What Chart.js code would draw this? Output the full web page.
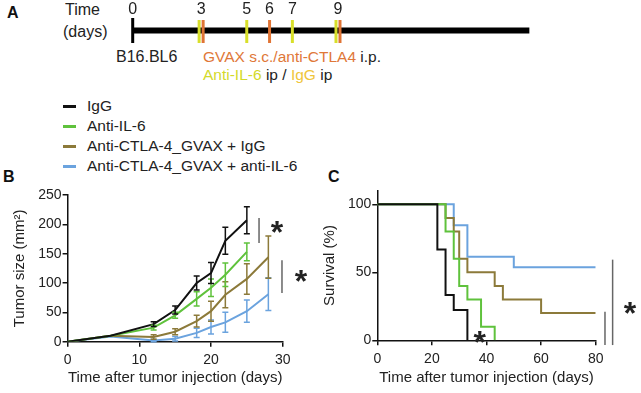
<!DOCTYPE html>
<html>
<head>
<meta charset="utf-8">
<script src="https://cdn.jsdelivr.net/npm/chart.js@4.4.1/dist/chart.umd.min.js"></script>
<style>
  html, body { margin: 0; padding: 0; background: #fff; }
  body { width: 641px; height: 393px; position: relative; overflow: hidden;
         font-family: "Liberation Sans", Arial, sans-serif; color: #222; }
  canvas { position: absolute; }
  .t { position: absolute; white-space: nowrap; line-height: 1; transform: translateY(-50%); }
  .letter { font-weight: bold; font-size: 16px; color: #111; }
  .tl { font-size: 16px; }
  .tr { font-size: 15.5px; }
  .lg { font-size: 15.5px; }
  .sw { position: absolute; width: 13px; height: 2.5px; }
  .orange { color: #e07838; }
  .yellow { color: #d3da2a; }
  .gold { color: #efc53a; }
</style>
</head>
<body>
<div class="t letter" style="left:7px; top:13px;">A</div>
<div class="t tl" style="left:65px; top:10px;">Time</div>
<div class="t tl" style="left:63px; top:32px;">(days)</div>
<div class="t tl" style="left:116px; top:57px;">B16.BL6</div>
<div class="t tr" style="left:203px; top:57px;"><span class="orange">GVAX s.c./anti-CTLA4</span> i.p.</div>
<div class="t tr" style="left:203px; top:75px;"><span class="yellow">Anti-IL-6</span> ip / <span class="gold">IgG</span> ip</div>

<div id="legend"></div>

<div class="t letter" style="left:3px; top:177px;">B</div>
<div class="t letter" style="left:328px; top:177px;">C</div>

<canvas id="timeline" width="641" height="50" style="left:0; top:0;"></canvas>
<canvas id="tumor" width="320" height="213" style="left:0; top:180px;"></canvas>
<canvas id="survival" width="321" height="213" style="left:320px; top:180px;"></canvas>

<script>
// ---- panel A: treatment schedule ----
const timelineDays = [0, 3, 5, 6, 7, 9];
const timelineEnd = 17.4;
const gvaxDays = [3, 6, 9];
const il6Days = [3, 5, 7, 9];

// ---- groups ----
const groupNames = ['IgG', 'Anti-IL-6', 'Anti-CTLA-4_GVAX + IgG', 'Anti-CTLA-4_GVAX + anti-IL-6'];
const groupColors = ['#111111', '#5fc23c', '#8c7a3a', '#6ba3de'];

// ---- panel B: tumor size (mm2), mean and SEM ----
const daysShort = [0, 6, 12, 15, 18, 20, 22, 25];
const daysLong = [0, 6, 12, 15, 18, 20, 22, 25, 28];
const sizeIgG = [0, 10, 30, 54, 100, 117, 172, 207];
const semIgG = [0, 0, 4, 7, 12, 18, 23, 23];
const sizeIL6 = [0, 10, 24, 45, 73, 92, 114, 153];
const semIL6 = [0, 0, 4, 5, 12, 15, 20, 15];
const sizeCtlaIgG = [0, 10, 8, 17, 35, 52, 80, 107, 144];
const semCtlaIgG = [0, 0, 4, 5, 10, 17, 22, 26, 36];
const sizeCtlaIL6 = [0, 9, 2, 5, 15, 25, 33, 52, 81];
const semCtlaIL6 = [0, 0, 2, 4, 8, 12, 17, 19, 28];
const tumorXTicks = [0, 10, 20, 30];
const tumorYTicks = [0, 50, 100, 150, 200, 250];

// ---- panel C: survival (%) ----
const survTimeIgG = [0, 22, 25, 28, 33];
const survIgG = [100, 66.7, 33.3, 22.2, 0];
const survTimeIL6 = [0, 25, 28, 30, 33, 38, 43];
const survIL6 = [100, 80, 60, 40, 30, 10, 0];
const survTimeCtlaIgG = [0, 25, 28, 30, 33, 43, 46, 60, 80];
const survCtlaIgG = [100, 90, 80, 60, 50, 40, 30, 20, 20];
const survTimeCtlaIL6 = [0, 28, 33, 50, 80];
const survCtlaIL6 = [100, 84.6, 61.5, 53.8, 53.8];
const survXTicks = [0, 20, 40, 60, 80];
const survYTicks = [0, 50, 100];

const FONT = '"Liberation Sans", Arial, sans-serif';
const INK = '#222';

// legend
const legend = document.getElementById('legend');
groupNames.forEach((name, i) => {
  const y = 106 + i * 20;
  legend.insertAdjacentHTML('beforeend',
    `<div class="sw" style="left:63px; top:${y - 1}px; background:${groupColors[i]}"></div>` +
    `<div class="t lg" style="left:87px; top:${y}px;">${name}</div>`);
});

const pts = (xs, ys) => xs.map((x, i) => ({x: x, y: ys[i]}));
const setTicks = arr => scale => { scale.ticks = arr.map(v => ({value: v})); };

function axis(opts) {
  return {
    type: 'linear',
    min: opts.min, max: opts.max,
    afterBuildTicks: setTicks(opts.ticks),
    afterFit: opts.fit,
    border: {color: '#111', width: 1.5},
    grid: {drawOnChartArea: false, drawTicks: true, tickLength: 5, color: '#111', lineWidth: 1.5},
    ticks: {color: INK, font: {family: FONT, size: 14}, padding: opts.pad, autoSkip: false, maxRotation: 0},
    title: {display: true, text: opts.title, color: INK,
            font: {family: FONT, size: 15, lineHeight: 1.2}, padding: opts.titlePad}
  };
}

const errorBars = {
  id: 'errorBars',
  afterDatasetsDraw(chart) {
    const {ctx, scales: {x, y}} = chart;
    chart.data.datasets.slice().reverse().forEach(ds => {
      if (!ds.sem) return;
      ctx.save();
      ctx.strokeStyle = ds.borderColor;
      ctx.lineWidth = 1.5;
      ds.data.forEach((p, j) => {
        const e = ds.sem[j];
        if (!e) return;
        const px = x.getPixelForValue(p.x);
        const top = y.getPixelForValue(p.y + e);
        const bot = y.getPixelForValue(p.y - e);
        ctx.beginPath();
        ctx.moveTo(px, top); ctx.lineTo(px, bot);
        ctx.moveTo(px - 3, top); ctx.lineTo(px + 3, top);
        ctx.moveTo(px - 3, bot); ctx.lineTo(px + 3, bot);
        ctx.stroke();
      });
      ctx.restore();
    });
  }
};

// significance bars and stars, placed in data units
function sigMarks(bars, stars) {
  return {
    id: 'sig',
    afterDraw(chart) {
      const {ctx, scales: {x, y}} = chart;
      ctx.save();
      ctx.strokeStyle = '#666';
      ctx.lineWidth = 1.5;
      bars.forEach(b => {
        const px = x.getPixelForValue(b.x);
        ctx.beginPath();
        ctx.moveTo(px, y.getPixelForValue(b.y0));
        ctx.lineTo(px, y.getPixelForValue(b.y1));
        ctx.stroke();
      });
      ctx.fillStyle = '#222';
      ctx.font = 'bold 32px ' + FONT;
      ctx.textAlign = 'center';
      ctx.textBaseline = 'alphabetic';
      stars.forEach(s => {
        ctx.fillText('*', x.getPixelForValue(s.x), y.getPixelForValue(s.y) + 0.57 * 32);
      });
      ctx.restore();
    }
  };
}

const base = {
  responsive: false,
  animation: false,
  devicePixelRatio: 1,
  plugins: {legend: {display: false}, tooltip: {enabled: false}},
  elements: {point: {radius: 0}, line: {borderWidth: 2, tension: 0}}
};

// ---- A ----
const scheduleTicks = {
  id: 'scheduleTicks',
  afterDatasetsDraw(chart) {
    const {ctx, chartArea: area, scales: {x}} = chart;
    ctx.save();
    ctx.lineWidth = 3;
    ctx.strokeStyle = '#000';
    ctx.beginPath();
    ctx.moveTo(x.getPixelForValue(0), area.top);
    ctx.lineTo(x.getPixelForValue(0), area.bottom);
    ctx.stroke();
    const mark = (d, color, shift) => {
      const px = x.getPixelForValue(d) + shift;
      ctx.strokeStyle = color;
      ctx.beginPath();
      ctx.moveTo(px, area.top + 2);
      ctx.lineTo(px, area.bottom);
      ctx.stroke();
    };
    il6Days.forEach(d => mark(d, '#d8df2a', gvaxDays.includes(d) ? -2 : 0));
    gvaxDays.forEach(d => mark(d, '#e07435', il6Days.includes(d) ? 2 : 0));
    ctx.restore();
  }
};

new Chart(document.getElementById('timeline'), {
  type: 'line',
  data: {datasets: [{data: [{x: 0, y: 0}, {x: timelineEnd, y: 0}], borderColor: '#000', borderWidth: 6}]},
  options: {
    ...base,
    layout: {padding: {left: 132.7, right: 111.4, top: 0, bottom: 7}},
    scales: {
      x: {
        type: 'linear', position: 'top', min: 0, max: timelineEnd,
        afterBuildTicks: setTicks(timelineDays),
        afterFit: s => { s.height = 18; },
        grid: {display: false, drawTicks: false}, border: {display: false},
        ticks: {color: INK, font: {family: FONT, size: 16, lineHeight: 1}, padding: 0, autoSkip: false, maxRotation: 0}
      },
      y: {display: false, min: -1, max: 1}
    }
  },
  plugins: [scheduleTicks]
});

// ---- B ----
const tumorSets = [
  [daysShort, sizeIgG, semIgG],
  [daysShort, sizeIL6, semIL6],
  [daysLong, sizeCtlaIgG, semCtlaIgG],
  [daysLong, sizeCtlaIL6, semCtlaIL6]
].map(([d, v, e], i) => ({
  label: groupNames[i], data: pts(d, v), sem: e,
  borderColor: groupColors[i], fill: false
}));

new Chart(document.getElementById('tumor'), {
  type: 'line',
  data: {datasets: tumorSets},
  options: {
    ...base,
    layout: {padding: {left: 0, top: 15, right: 37.3, bottom: 0}},
    scales: {
      x: axis({min: 0, max: 30, ticks: tumorXTicks, pad: 5, fit: s => { s.height = 51.3; },
               title: 'Time after tumor injection (days)', titlePad: {top: 0, bottom: 6}}),
      y: axis({min: 0, max: 250, ticks: tumorYTicks, pad: 1, fit: s => { s.width = 67.6; },
               title: 'Tumor size (mm\u00B2)', titlePad: {top: 11, bottom: 0}})
    }
  },
  plugins: [errorBars, sigMarks(
    [{x: 26.7, y0: 168, y1: 211}, {x: 29.9, y0: 83, y1: 139}],
    [{x: 29.2, y: 199}, {x: 32.55, y: 115}]
  )]
});

// ---- C ----
const survSets = [
  [survTimeIgG, survIgG],
  [survTimeIL6, survIL6],
  [survTimeCtlaIgG, survCtlaIgG],
  [survTimeCtlaIL6, survCtlaIL6]
].map(([t, s], i) => ({
  label: groupNames[i], data: pts(t, s),
  borderColor: groupColors[i], fill: false, stepped: 'before'
}));

new Chart(document.getElementById('survival'), {
  type: 'line',
  data: {datasets: survSets},
  options: {
    ...base,
    layout: {padding: {left: 0, top: 10.7, right: 45.3, bottom: 0}},
    scales: {
      x: axis({min: 0, max: 80, ticks: survXTicks, pad: 5, fit: s => { s.height = 52.7; },
               title: 'Time after tumor injection (days)', titlePad: {top: 0, bottom: 5.7}}),
      y: axis({min: 0, max: 110, ticks: survYTicks, pad: 1, fit: s => { s.width = 57.3; },
               title: 'Survival (%)', titlePad: {top: 1, bottom: 0}})
    }
  },
  plugins: [sigMarks(
    [{x: 83.4, y0: -3.5, y1: 21}, {x: 86.2, y0: -3.5, y1: 59.3}],
    [{x: 92.6, y: 25.5}, {x: 37.5, y: 4.1}]
  )]
});
</script>
</body>
</html>
